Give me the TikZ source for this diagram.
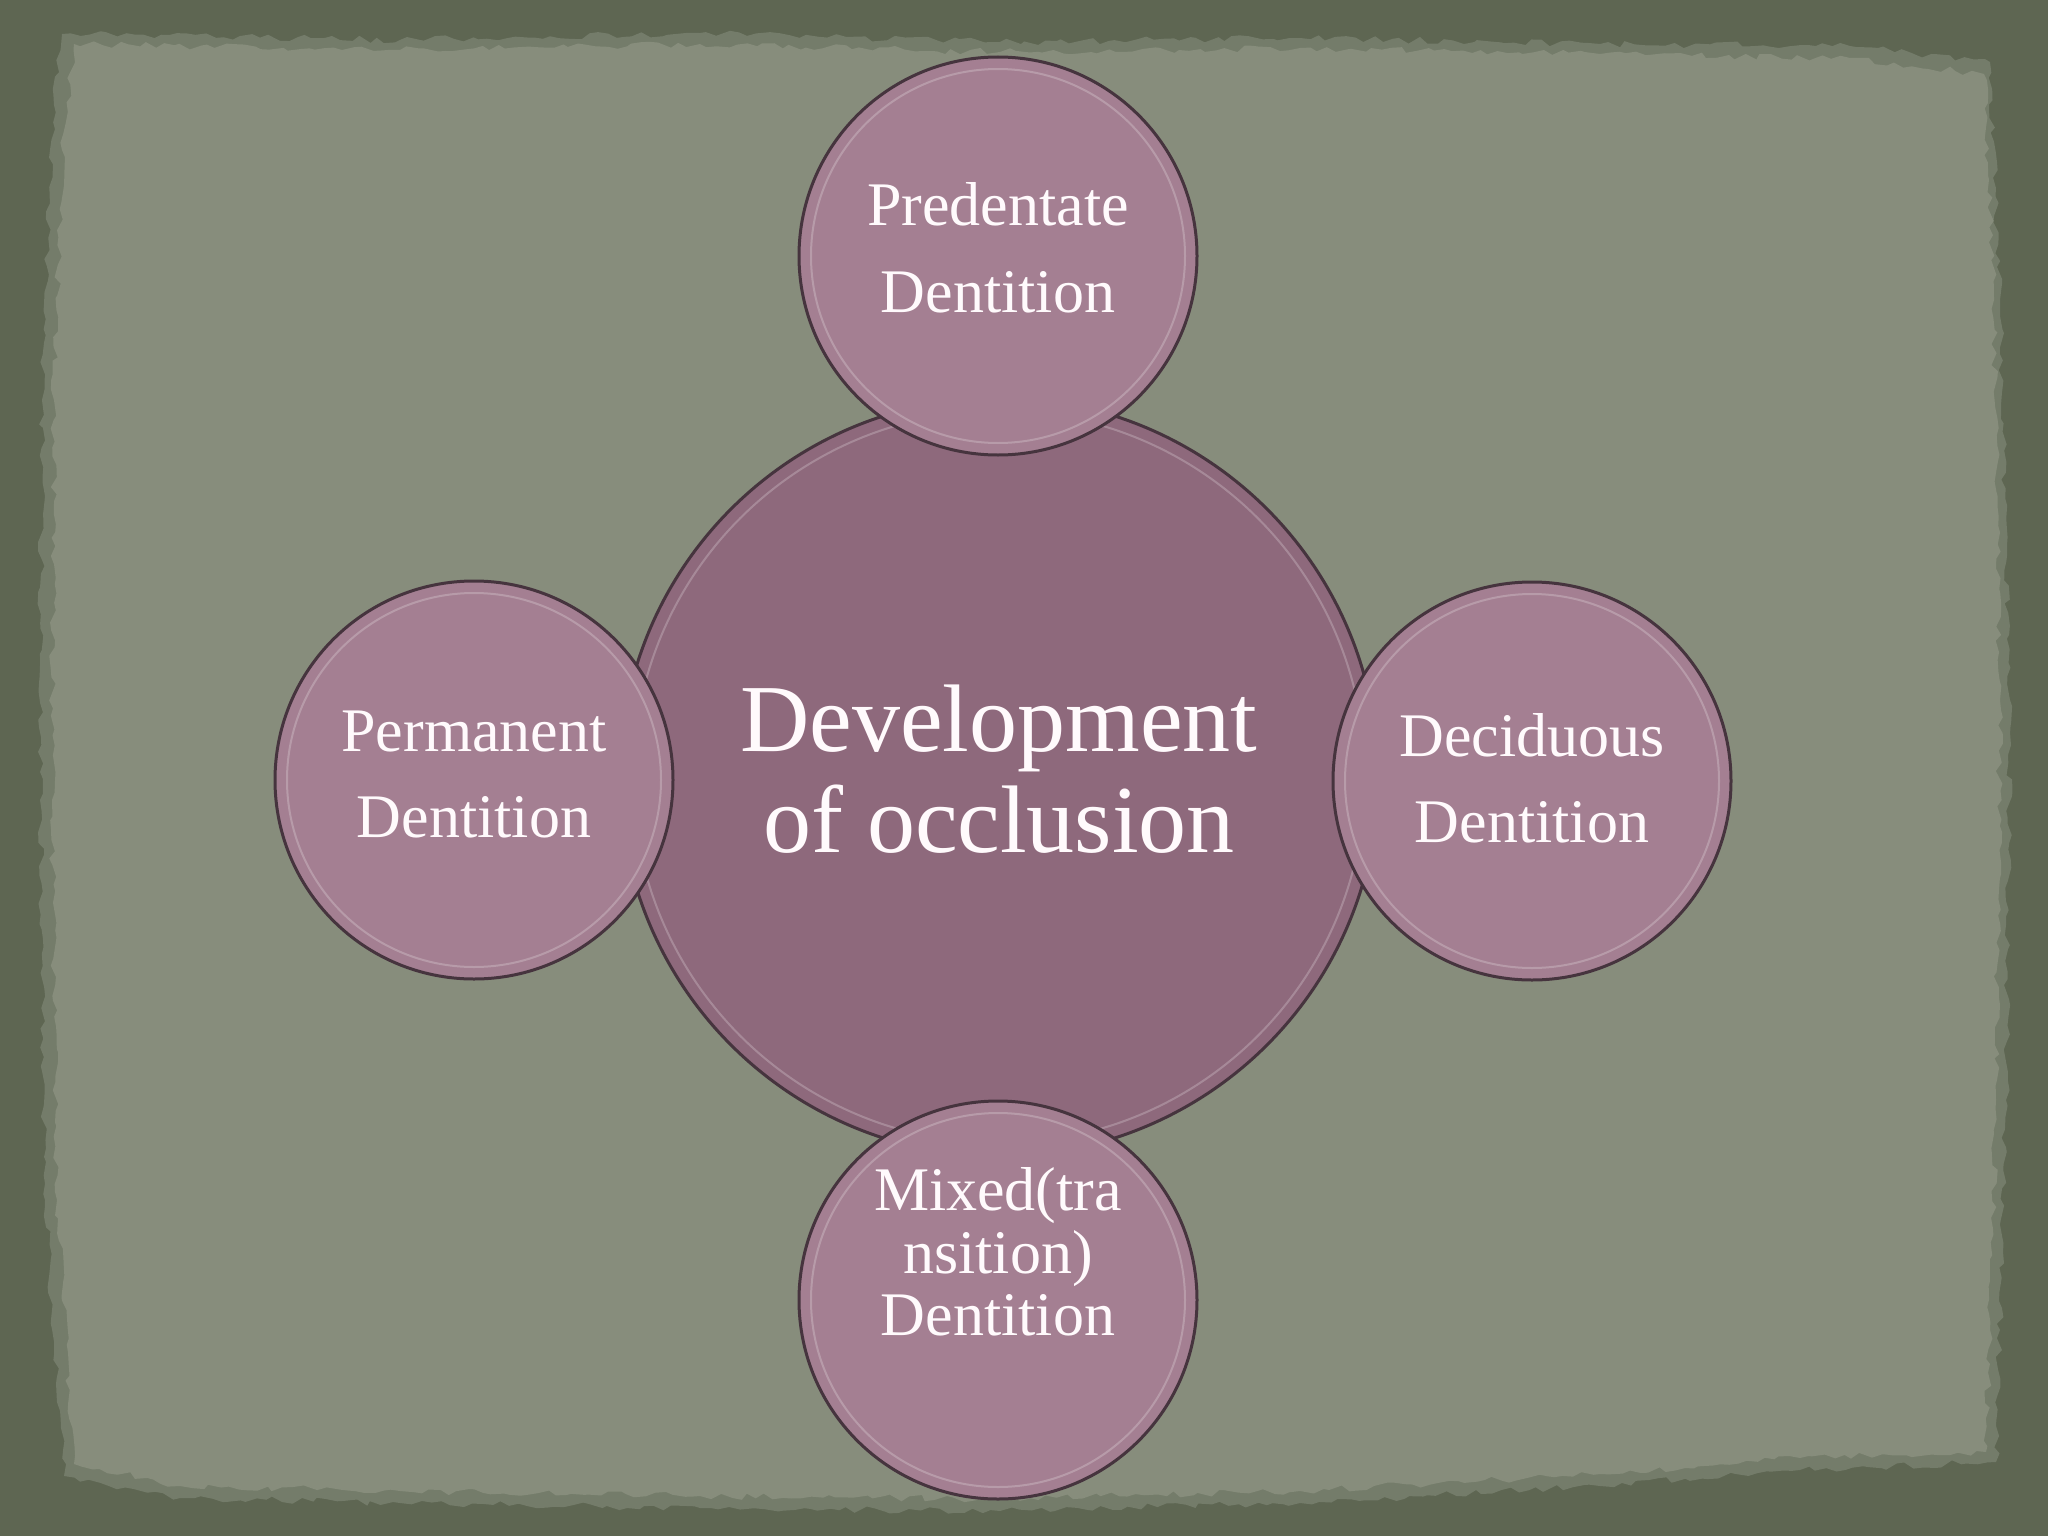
\documentclass[tikz,border=0pt]{standalone}
\usepackage{fontspec}
\setmainfont{Liberation Serif}
\usetikzlibrary{decorations.pathmorphing}
\definecolor{framecol}{RGB}{94,102,82}
\definecolor{paperedge}{RGB}{116,124,106}
\definecolor{papercol}{RGB}{135,141,124}
\definecolor{hubfill}{RGB}{142,105,124}
\definecolor{satfill}{RGB}{164,127,146}
\definecolor{rimdark}{RGB}{70,52,62}
\definecolor{txtcol}{RGB}{255,250,252}
\tikzset{
  hub/.style={circle, fill=hubfill, draw=rimdark, line width=3pt, minimum size=758pt, inner sep=0pt},
  sat/.style={circle, fill=satfill, draw=rimdark, line width=3pt, minimum size=398pt, inner sep=0pt},
  ring/.style={draw=white, draw opacity=0.22, line width=2pt},
  lbl/.style={text=txtcol, font=\fontsize{62}{62}\selectfont, anchor=base, inner sep=0pt},
  biglbl/.style={text=txtcol, font=\fontsize{96}{96}\selectfont, anchor=base, inner sep=0pt},
  torn/.style={decorate, decoration={random steps, segment length=9pt, amplitude=3.5pt}},
}
\begin{document}
\begin{tikzpicture}[x=1pt,y=-1pt]
\pgfmathsetseed{7}
\useasboundingbox (0,0) rectangle (2048,1536);
\fill[framecol] (0,0) rectangle (2048,1536);
% torn paper
\fill[paperedge, torn] (62,34) -- (400,40) -- (700,33) -- (1000,42) -- (1300,38) -- (1600,44) -- (1850,46) -- (1990,62)
  -- (2000,300) -- (2010,700) -- (2006,1100) -- (2000,1330) -- (1996,1462)
  -- (1800,1470) -- (1600,1486) -- (1300,1503) -- (1000,1511) -- (700,1508) -- (400,1503) -- (180,1498) -- (64,1476)
  -- (45,1200) -- (40,800) -- (42,400) -- (50,150) -- cycle;
\fill[papercol, torn] (74,44) -- (400,50) -- (700,44) -- (1000,52) -- (1300,48) -- (1600,54) -- (1850,58) -- (1984,74)
  -- (1994,300) -- (2000,700) -- (1996,1100) -- (1990,1330) -- (1986,1452)
  -- (1800,1458) -- (1600,1474) -- (1300,1491) -- (1000,1499) -- (700,1496) -- (400,1491) -- (180,1486) -- (74,1464)
  -- (57,1200) -- (52,800) -- (54,400) -- (62,150) -- cycle;
% circles
\node[hub] (hub) at (999,777) {};
\draw[ring] (hub.center) circle[radius=366pt];
\node[sat] (top) at (998,256) {};
\node[sat] (left) at (474,780) {};
\node[sat] (right) at (1532,781) {};
\node[sat] (bottom) at (998,1300) {};
\foreach \n in {top,left,right,bottom}{
  \draw[ring] (\n.center) circle[radius=187pt];
}
% labels
\node[biglbl] (h1) at (999,751) {Development};
\node[biglbl] (h2) at (999,852) {of occlusion};
\node[lbl] (t1) at (998,225) {Predentate};
\node[lbl] (t2) at (998,312) {Dentition};
\node[lbl] (l1) at (474,751) {Permanent};
\node[lbl] (l2) at (474,837) {Dentition};
\node[lbl] (r1) at (1532,756) {Deciduous};
\node[lbl] (r2) at (1532,842) {Dentition};
\node[lbl] (b1) at (998,1210) {Mixed(tra};
\node[lbl] (b2) at (998,1273) {nsition)};
\node[lbl] (b3) at (998,1335) {Dentition};
\end{tikzpicture}
\end{document}
